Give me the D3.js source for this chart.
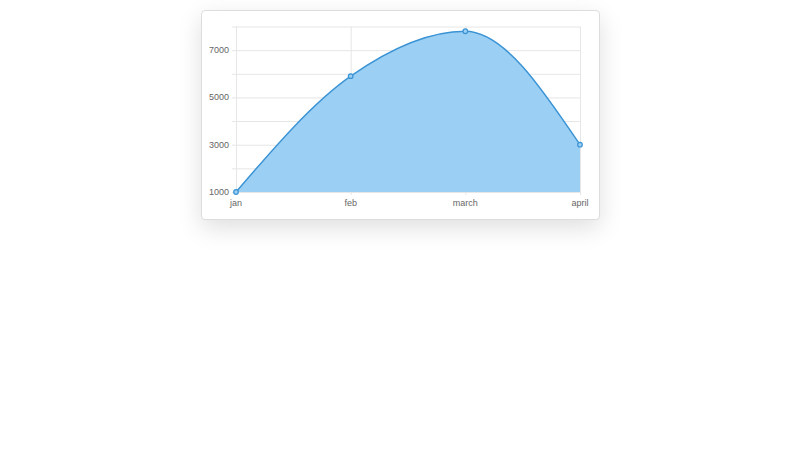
<!DOCTYPE html>
<html>
<head>
<meta charset="utf-8">
<script src="https://cdnjs.cloudflare.com/ajax/libs/d3/7.8.5/d3.min.js"></script>
<style>
  html, body { margin: 0; padding: 0; background: #fff; width: 800px; height: 450px; overflow: hidden; }
  .card {
    position: absolute; left: 201px; top: 10px; width: 397px; height: 208px;
    border: 1px solid #ddd; border-radius: 4px; background: #fff;
    box-shadow: 0 8px 24px rgba(0,0,0,0.13);
  }
  svg { position: absolute; left: 0; top: 0; }
  text { font-family: "Liberation Sans", Arial, sans-serif; font-size: 9px; fill: #666; }
</style>
</head>
<body>
<div class="card"></div>
<svg id="chart"></svg>
<script>
const months = ['jan', 'feb', 'march', 'april'];
const values = [1000, 5900, 7800, 3000];
const yTicks = [1000, 2000, 3000, 4000, 5000, 6000, 7000, 8000];
const yLabels = [1000, 3000, 5000, 7000];

const width = 800;
const height = 450;

const svg = d3.select('#chart')
  .attr('width', width)
  .attr('height', height);

const margin = {left: 236, right: 220, top: 26.5, bottom: 258};

const x = d3.scalePoint()
  .domain(months)
  .range([margin.left, width - margin.right]);

const y = d3.scaleLinear()
  .domain([1000, 8000])
  .range([height - margin.bottom, margin.top]);

const data = months.map((m, i) => ({month: m, value: values[i]}));

// grid
const grid = svg.append('g');
grid.selectAll('line.h').data(yTicks).enter().append('line')
  .attr('x1', margin.left - 4)
  .attr('x2', x('april'))
  .attr('y1', d => y(d) + 0.5)
  .attr('y2', d => y(d) + 0.5)
  .attr('stroke', '#e6e6e6');

grid.selectAll('line.v').data(months).enter().append('line')
  .attr('x1', d => x(d) + 0.5)
  .attr('x2', d => x(d) + 0.5)
  .attr('y1', y(8000))
  .attr('y2', y(1000) + 3)
  .attr('stroke', '#e6e6e6');

// y labels
svg.append('g').selectAll('text').data(yLabels).enter().append('text')
  .attr('x', margin.left - 7)
  .attr('y', d => y(d) + 3)
  .attr('text-anchor', 'end')
  .text(d => d);

// x labels
svg.append('g').selectAll('text').data(months).enter().append('text')
  .attr('x', d => x(d))
  .attr('y', y(1000) + 14)
  .attr('text-anchor', 'middle')
  .text(d => d);

// area
const area = d3.area()
  .x(d => x(d.month))
  .y0(y(1000))
  .y1(d => y(d.value))
  .curve(d3.curveMonotoneX);

svg.append('path').datum(data)
  .attr('d', area)
  .attr('fill', '#9bcff3');

const line = d3.line()
  .x(d => x(d.month))
  .y(d => y(d.value))
  .curve(d3.curveMonotoneX);

svg.append('path').datum(data)
  .attr('d', line)
  .attr('fill', 'none')
  .attr('stroke', '#3a93d4')
  .attr('stroke-width', 1.4);

// points
svg.append('g').selectAll('circle').data(data).enter().append('circle')
  .attr('cx', d => x(d.month))
  .attr('cy', d => y(d.value))
  .attr('r', 2.3)
  .attr('fill', '#9bcff3')
  .attr('stroke', '#3a93d4')
  .attr('stroke-width', 1.2);
</script>
</body>
</html>
